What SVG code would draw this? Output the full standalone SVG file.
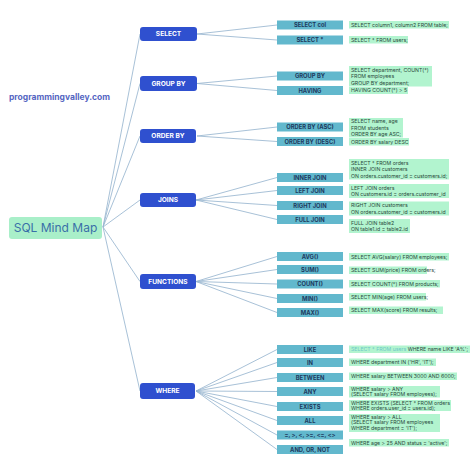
<svg xmlns="http://www.w3.org/2000/svg" width="474" height="474" viewBox="0 0 474 474">
<style>
.bn rect{fill:#2f50cf}
.bn text{fill:#fff;font:700 6.6px Inter,"Liberation Sans",sans-serif;text-anchor:middle}
.sn rect{fill:#62b8cd}
.sn text{fill:#1d3a5e;font:700 5.8px Inter,"Liberation Sans",sans-serif;text-anchor:middle}
.cb rect{fill:#b2f4cf}
.cb text{fill:#2b4a3c;font:400 5.2px Inter,"Liberation Sans",sans-serif}
.ln line{stroke:#98b6d0;stroke-width:0.85}
</style>
<rect width="474" height="474" fill="#fff"/>
<g class="ln" id="connectors">
<line x1="103" y1="227" x2="140" y2="34"/>
<line x1="103" y1="227" x2="140" y2="83.5"/>
<line x1="103" y1="227" x2="140" y2="136"/>
<line x1="103" y1="227" x2="140" y2="200"/>
<line x1="103" y1="227" x2="140" y2="281.5"/>
<line x1="103" y1="227" x2="140" y2="391"/>
<line x1="197" y1="34" x2="277" y2="25"/>
<line x1="197" y1="34" x2="277" y2="40"/>
<line x1="197" y1="83.5" x2="277" y2="76"/>
<line x1="197" y1="83.5" x2="277" y2="90.5"/>
<line x1="197" y1="136" x2="277" y2="127"/>
<line x1="197" y1="136" x2="277" y2="141.5"/>
<line x1="196" y1="200" x2="277" y2="177.5"/>
<line x1="196" y1="200" x2="277" y2="190.5"/>
<line x1="196" y1="200" x2="277" y2="205.5"/>
<line x1="196" y1="200" x2="277" y2="219.5"/>
<line x1="196" y1="281.5" x2="277" y2="256.5"/>
<line x1="196" y1="281.5" x2="277" y2="269.5"/>
<line x1="196" y1="281.5" x2="277" y2="284"/>
<line x1="196" y1="281.5" x2="277" y2="298.5"/>
<line x1="196" y1="281.5" x2="277" y2="312.5"/>
<line x1="196" y1="391" x2="277" y2="349.5"/>
<line x1="196" y1="391" x2="277" y2="362.5"/>
<line x1="196" y1="391" x2="277" y2="377.5"/>
<line x1="196" y1="391" x2="277" y2="391.5"/>
<line x1="196" y1="391" x2="277" y2="406.5"/>
<line x1="196" y1="391" x2="277" y2="420.5"/>
<line x1="196" y1="391" x2="277" y2="435"/>
<line x1="196" y1="391" x2="277" y2="449.5"/>
</g>
<text x="9" y="100" fill="#5566c2" font-family="Inter, 'Liberation Sans', sans-serif" font-weight="700" font-size="8.5">programmingvalley.com</text>
<g id="root"><rect x="9" y="217" width="93" height="22" rx="3" fill="#a9efc9"/><text x="55.5" y="232" fill="#3a6fa8" font-family="Inter, 'Liberation Sans', sans-serif" font-size="12" text-anchor="middle">SQL Mind Map</text></g>
<g id="b-select" class="bn"><rect x="140" y="27" width="57" height="14" rx="3"/><text x="168.5" y="36.4">SELECT</text></g>
<g id="b-groupby" class="bn"><rect x="140" y="76" width="57" height="15" rx="3"/><text x="168.5" y="85.9">GROUP BY</text></g>
<g id="b-orderby" class="bn"><rect x="140" y="129" width="56" height="14" rx="3"/><text x="168" y="138.4">ORDER BY</text></g>
<g id="b-joins" class="bn"><rect x="140" y="193" width="56" height="14" rx="3"/><text x="168" y="202.4">JOINS</text></g>
<g id="b-functions" class="bn"><rect x="140" y="274" width="56" height="15" rx="3"/><text x="168" y="283.9">FUNCTIONS</text></g>
<g id="b-where" class="bn"><rect x="140" y="383" width="55" height="16" rx="3"/><text x="167.5" y="393.4">WHERE</text></g>
<g id="s-selectcol" class="sn"><rect x="277" y="20.5" width="66" height="9"/><text x="310" y="27">SELECT col</text></g>
<g id="s-selectall" class="sn"><rect x="277" y="35.5" width="66" height="9"/><text x="310" y="42">SELECT *</text></g>
<g id="s-groupby" class="sn"><rect x="277" y="71.5" width="66" height="9"/><text x="310" y="78">GROUP BY</text></g>
<g id="s-having" class="sn"><rect x="277" y="86" width="66" height="9"/><text x="310" y="92.5">HAVING</text></g>
<g id="s-asc" class="sn"><rect x="277" y="122.5" width="66" height="9"/><text x="310" y="129">ORDER BY (ASC)</text></g>
<g id="s-desc" class="sn"><rect x="277" y="137" width="66" height="9"/><text x="310" y="143.5">ORDER BY (DESC)</text></g>
<g id="s-inner" class="sn"><rect x="277" y="173" width="66" height="9"/><text x="310" y="179.5">INNER JOIN</text></g>
<g id="s-left" class="sn"><rect x="277" y="186" width="66" height="9"/><text x="310" y="192.5">LEFT JOIN</text></g>
<g id="s-right" class="sn"><rect x="277" y="201" width="66" height="9"/><text x="310" y="207.5">RIGHT JOIN</text></g>
<g id="s-full" class="sn"><rect x="277" y="215" width="66" height="9"/><text x="310" y="221.5">FULL JOIN</text></g>
<g id="s-avg" class="sn"><rect x="277" y="252" width="66" height="9"/><text x="310" y="258.5">AVG()</text></g>
<g id="s-sum" class="sn"><rect x="277" y="265" width="66" height="9"/><text x="310" y="271.5">SUM()</text></g>
<g id="s-count" class="sn"><rect x="277" y="279.5" width="66" height="9"/><text x="310" y="286">COUNT()</text></g>
<g id="s-min" class="sn"><rect x="277" y="294" width="66" height="9"/><text x="310" y="300.5">MIN()</text></g>
<g id="s-max" class="sn"><rect x="277" y="308" width="66" height="9"/><text x="310" y="314.5">MAX()</text></g>
<g id="s-like" class="sn"><rect x="277" y="345" width="66" height="9"/><text x="310" y="351.5">LIKE</text></g>
<g id="s-in" class="sn"><rect x="277" y="358" width="66" height="9"/><text x="310" y="364.5">IN</text></g>
<g id="s-between" class="sn"><rect x="277" y="373" width="66" height="9"/><text x="310" y="379.5">BETWEEN</text></g>
<g id="s-any" class="sn"><rect x="277" y="387" width="66" height="9"/><text x="310" y="393.5">ANY</text></g>
<g id="s-exists" class="sn"><rect x="277" y="402" width="66" height="9"/><text x="310" y="408.5">EXISTS</text></g>
<g id="s-all" class="sn"><rect x="277" y="416" width="66" height="9"/><text x="310" y="422.5">ALL</text></g>
<g id="s-ops" class="sn"><rect x="277" y="430.5" width="66" height="9"/><text x="310" y="437">=, &gt;, &lt;, &gt;=, &lt;=, &lt;&gt;</text></g>
<g id="s-andornot" class="sn"><rect x="277" y="445" width="66" height="9"/><text x="310" y="451.5">AND, OR, NOT</text></g>
<g id="c-selectcol" class="cb"><rect x="349" y="21" width="100" height="7.5"/><text x="351" y="26.7">SELECT column1, column2 FROM table;</text></g>
<g id="c-selectall" class="cb"><rect x="349" y="36" width="59" height="7.5"/><text x="351" y="41.7">SELECT * FROM users;</text></g>
<g id="c-groupby" class="cb"><rect x="349" y="66" width="83" height="20.5"/><text x="351" y="71.5">SELECT department, COUNT(*)</text><text x="351" y="78">FROM employees</text><text x="351" y="84.5">GROUP BY department;</text></g>
<g id="c-having" class="cb"><rect x="349" y="87" width="59" height="7"/><text x="351" y="92.3">HAVING COUNT(*) &gt; 5</text></g>
<g id="c-orderasc" class="cb"><rect x="349" y="118" width="54" height="19.5"/><text x="351" y="123.3">SELECT name, age</text><text x="351" y="129.8">FROM students</text><text x="351" y="136.3">ORDER BY age ASC;</text></g>
<g id="c-orderdesc" class="cb"><rect x="349" y="138" width="60" height="7.5"/><text x="351" y="143.5">ORDER BY salary DESC</text></g>
<g id="c-inner" class="cb"><rect x="349" y="159" width="100" height="20.5"/><text x="351" y="164.5">SELECT * FROM orders</text><text x="351" y="171">INNER JOIN customers</text><text x="351" y="177.5">ON orders.customer_id = customers.id;</text></g>
<g id="c-left" class="cb"><rect x="349" y="184" width="100" height="14"/><text x="351" y="189.5">LEFT JOIN orders</text><text x="351" y="196">ON customers.id = orders.customer_id</text></g>
<g id="c-right" class="cb"><rect x="349" y="201.5" width="100" height="14"/><text x="351" y="207">RIGHT JOIN customers</text><text x="351" y="213.5">ON orders.customer_id = customers.id</text></g>
<g id="c-full" class="cb"><rect x="349" y="219" width="61" height="14"/><text x="351" y="224.5">FULL JOIN table2</text><text x="351" y="231">ON table1.id = table2.id</text></g>
<g id="c-avg" class="cb"><rect x="349" y="253" width="100" height="7.5"/><text x="351" y="258.7">SELECT AVG(salary) FROM employees;</text></g>
<g id="c-sum" class="cb"><rect x="349" y="266.5" width="78" height="7.5"/><text x="351" y="272.2">SELECT SUM(price) FROM orders;</text></g>
<g id="c-count" class="cb"><rect x="349" y="280" width="91" height="7.5"/><text x="351" y="285.7">SELECT COUNT(*) FROM products;</text></g>
<g id="c-min" class="cb"><rect x="349" y="293" width="77" height="7.5"/><text x="351" y="298.7">SELECT MIN(age) FROM users;</text></g>
<g id="c-max" class="cb"><rect x="349" y="306.5" width="94" height="7.5"/><text x="351" y="312.2">SELECT MAX(score) FROM results;</text></g>
<g id="c-like" class="cb"><rect x="349" y="345.5" width="121" height="7.5"/><text x="351" y="351.2"><tspan fill="#6fc7c8">SELECT * FROM users</tspan> WHERE name LIKE 'A%';</text></g>
<g id="c-in" class="cb"><rect x="349" y="358.5" width="87" height="7.5"/><text x="351" y="364.2">WHERE department IN ('HR', 'IT');</text></g>
<g id="c-between" class="cb"><rect x="349" y="372.5" width="108" height="7.5"/><text x="351" y="378.2">WHERE salary BETWEEN 3000 AND 6000;</text></g>
<g id="c-any" class="cb"><rect x="349" y="386" width="91" height="11.5"/><text x="351" y="390.8">WHERE salary &gt; ANY</text><text x="351" y="395.8">(SELECT salary FROM employees);</text></g>
<g id="c-exists" class="cb"><rect x="349" y="400" width="102" height="11"/><text x="351" y="404.7">WHERE EXISTS (SELECT * FROM orders</text><text x="351" y="409.7">WHERE orders.user_id = users.id);</text></g>
<g id="c-all" class="cb"><rect x="349" y="414" width="91" height="18"/><text x="351" y="418.8">WHERE salary &gt; ALL</text><text x="351" y="424.3">(SELECT salary FROM employees</text><text x="351" y="429.8">WHERE department = 'IT');</text></g>
<g id="c-andornot" class="cb"><rect x="349" y="439" width="100" height="7.5"/><text x="351" y="444.7">WHERE age &gt; 25 AND status = 'active';</text></g>
</svg>
